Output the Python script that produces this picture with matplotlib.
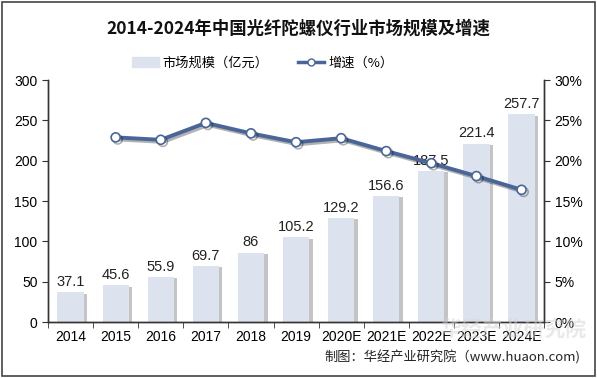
import matplotlib.pyplot as plt
import matplotlib.patheffects as pe
from matplotlib.ticker import FuncFormatter

plt.rcParams['font.family'] = ['Noto Sans CJK SC', 'DejaVu Sans']
num_font = ['Liberation Sans', 'DejaVu Sans']

# data
years = ['2014', '2015', '2016', '2017', '2018', '2019',
         '2020E', '2021E', '2022E', '2023E', '2024E']
market_size = [37.1, 45.6, 55.9, 69.7, 86, 105.2, 129.2, 156.6, 187.5, 221.4, 257.7]
growth = [None, 22.9, 22.6, 24.7, 23.4, 22.3, 22.8, 21.2, 19.7, 18.1, 16.4]

bar_color = '#dde3ee'
line_color = '#4a6699'

fig = plt.figure(figsize=(5.97, 3.78), dpi=100)
ax = fig.add_axes([0.0804, 0.148, 0.831, 0.640])
ax2 = ax.twinx()

x = list(range(len(years)))
shadow = [pe.SimplePatchShadow(offset=(2.5, -1), shadow_rgbFace='#8a8a8a', alpha=0.5), pe.Normal()]
ax.bar(x, market_size, width=0.58, color=bar_color, zorder=2, path_effects=shadow)
for xi, v in zip(x, market_size):
    ax.text(xi, v + 4, f'{v:g}', ha='center', va='bottom', fontsize=10.5, color='#222222',
            family=num_font, zorder=5)

gx = [xi for xi, g in zip(x, growth) if g is not None]
gy = [g for g in growth if g is not None]
ax2.plot(gx, gy, color=line_color, lw=2.8, marker='o', ms=6.5, mfc='white',
         mec=line_color, mew=1.2, zorder=4,
         path_effects=[pe.SimpleLineShadow(offset=(1.5, -1.5), alpha=0.3), pe.Normal()])

ax.set_xlim(-0.5, len(years) - 0.5)
ax.set_ylim(0, 300)
ax.set_yticks(range(0, 301, 50))
ax2.set_ylim(0, 30)
ax2.set_yticks(range(0, 31, 5))
ax2.yaxis.set_major_formatter(FuncFormatter(lambda v, p: f'{v:g}%'))

ax.set_xticks(x)
ax.set_xticklabels(years)
ax.set_xticks([i - 0.5 for i in range(len(years) + 1)], minor=True)
ax.tick_params(axis='x', which='major', length=0, labelsize=10, pad=6)
ax.tick_params(axis='x', which='minor', length=4, color='#333333')
ax.tick_params(axis='y', labelsize=10, length=4, color='#333333')
ax2.tick_params(axis='y', labelsize=10, length=4, color='#333333')
for lab in ax.get_yticklabels() + ax2.get_yticklabels() + ax.get_xticklabels():
    lab.set_family(num_font)

for a in (ax, ax2):
    a.spines['top'].set_visible(False)
    for s in ('left', 'right', 'bottom'):
        a.spines[s].set_color('#333333')
        a.spines[s].set_linewidth(1)

# legend
handles = [plt.Rectangle((0, 0), 1, 1, color=bar_color),
           plt.Line2D([], [], color=line_color, lw=2.5, marker='o', ms=5, mfc='white', mec=line_color)]
fig.legend(handles, ['市场规模（亿元）', '增速（%）'], loc='center', bbox_to_anchor=(0.44, 0.833),
           ncol=2, frameon=False, fontsize=9.5, handlelength=2.0, columnspacing=2.2,
           handletextpad=0.3)

fig.text(0.5, 0.925, '2014-2024年中国光纤陀螺仪行业市场规模及增速', ha='center', va='center',
         fontsize=12.5, fontweight='bold', color='#111111')

# watermark
fig.text(0.86, 0.128, '华经产业研究院', ha='center', va='center', fontsize=15,
         color='#d4d4d4', alpha=0.5, fontweight='bold', zorder=0)
fig.text(0.972, 0.055, '制图：华经产业研究院（www.huaon.com)', ha='right', va='center',
         fontsize=9.5, color='#222222')

# frame around figure
fig.patches.append(plt.Rectangle((0.003, 0.004), 0.994, 0.992, transform=fig.transFigure,
                                 fill=False, edgecolor='#444444', lw=1.2))

fig.savefig('out.png', dpi=100)
